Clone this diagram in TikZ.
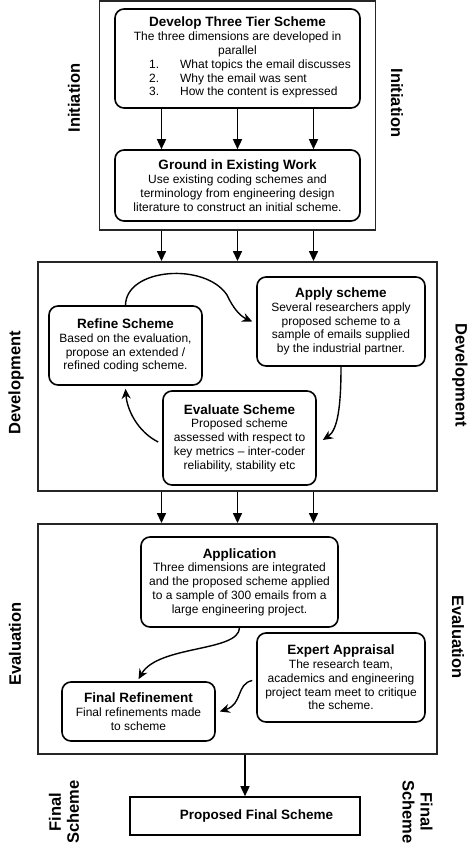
\documentclass[tikz,border=0pt]{standalone}
\usepackage{fontspec}
\setmainfont{Liberation Sans}
\usetikzlibrary{arrows.meta,calc}
\newcommand\ttl[1]{{\fontsize{13.5}{14}\selectfont\bfseries #1}}
\tikzset{
 phase/.style={draw=black!85, line width=1.9pt, inner sep=0pt},
 rbox/.style={draw, line width=1.6pt, rounded corners=9pt, align=center, inner sep=2pt, font=\fontsize{12}{13.8}\selectfont},
 sbox/.style={draw, line width=1.6pt, inner sep=0pt, font=\fontsize{13.5}{16}\selectfont\bfseries},
 lab/.style={font=\fontsize{16.5}{18}\selectfont\bfseries, align=center, inner sep=0pt},
 arr/.style={line width=1.5pt, -{Triangle[length=10pt,width=9pt]}},
 carr/.style={line width=1.4pt, -{Stealth[length=10pt,width=9pt]}},
}
\begin{document}
\begin{tikzpicture}[x=1pt,y=-1pt]
\useasboundingbox (0,0) rectangle (474,859);
% phase boxes
\node[phase, minimum width=276pt, minimum height=229pt] (init) at (237.5,115.5) {};
\node[phase, minimum width=399pt, minimum height=229pt] (devbox) at (237.5,376.5) {};
\node[phase, minimum width=399pt, minimum height=230pt] (evalbox) at (237.5,639) {};
% Initiation
\node[rbox, minimum width=245pt, minimum height=99pt] (tier) at (237.5,58.5)
 {\ttl{Develop Three Tier Scheme}\\The three dimensions are developed in\\parallel\\
  \hspace*{25pt}\begin{tabular}[t]{@{}l@{\hspace{21pt}}l@{}}1. & What topics the email discusses\\2. & Why the email was sent\\3. & How the content is expressed\end{tabular}};
\node[rbox, minimum width=245pt, minimum height=71pt] (ground) at (237.5,185.5)
 {\ttl{Ground in Existing Work}\\Use existing coding schemes and\\terminology from engineering design\\literature to construct an initial scheme.};
% Development
\node[rbox, minimum width=153pt, minimum height=79pt] (refine) at (125.5,345.5)
 {\ttl{Refine Scheme}\\Based on the evaluation,\\propose an extended /\\refined coding scheme.};
\node[rbox, minimum width=168pt, minimum height=89pt] (apply) at (341,321.5)
 {\ttl{Apply scheme}\\Several researchers apply\\proposed scheme to a\\sample of emails supplied\\by the industrial partner.};
\node[rbox, minimum width=153pt, minimum height=94pt] (evalsch) at (239.5,438)
 {\ttl{Evaluate Scheme}\\Proposed scheme\\assessed with respect to\\key metrics -- inter-coder\\reliability, stability etc};
% Evaluation
\node[rbox, minimum width=197pt, minimum height=90pt] (appl) at (239.5,582)
 {\ttl{Application}\\Three dimensions are integrated\\and the proposed scheme applied\\to a sample of 300 emails from a\\large engineering project.};
\node[rbox, minimum width=168pt, minimum height=89pt] (expert) at (341,677.5)
 {\ttl{Expert Appraisal}\\The research team,\\academics and engineering\\project team meet to critique\\the scheme.};
\node[rbox, minimum width=153pt, minimum height=59pt] (finref) at (138.5,711.5)
 {\ttl{Final Refinement}\\Final refinements made\\to scheme};
% Final
\node[sbox, minimum width=230pt, minimum height=38pt] (final) at (245,816)
 {\hspace*{23pt}Proposed Final Scheme};
% labels
\node[lab, rotate=90] (l1) at (74,98) {Initiation};
\node[lab, rotate=-90] (r1) at (397,103) {Initiation};
\node[lab, rotate=90] (l2) at (16,383) {Development};
\node[lab, rotate=-90] (r2) at (460,375) {Development};
\node[lab, rotate=90] (l3) at (15,644) {Evaluation};
\node[lab, rotate=-90] (r3) at (458,637) {Evaluation};
\node[lab, rotate=90] (l4) at (64,812) {Final\\Scheme};
\node[lab, rotate=-90] (r4) at (417.5,812) {Final\\Scheme};
% straight arrows
\foreach \dx in {-76,0,76}{
 \draw[arr] ([xshift=\dx pt]tier.south) -- ([xshift=\dx pt]ground.north);
 \draw[arr] ([xshift=\dx pt]init.south) -- ([xshift=\dx pt]devbox.north);
 \draw[arr] ([xshift=\dx pt]devbox.south) -- ([xshift=\dx pt]evalbox.north);
}
\draw[arr] ([xshift=7.5pt]evalbox.south) -- (final.north);
% curved arrows
\draw[carr] (refine.north) .. controls (126,268) and (205,262) .. (227,295)
  .. controls (233,308) and (240,316) .. ([xshift=-4pt]apply.west);
\draw[carr] (apply.south) .. controls (341,405) and (338,430) .. ([xshift=6pt,yshift=-2pt]evalsch.east);
\draw[carr] ([xshift=-4pt,yshift=-4pt]evalsch.west) .. controls (138,432) and (127,410) .. ([yshift=-3pt]refine.south);
\draw[carr] (appl.south) .. controls (239,652) and (158,645) .. ([yshift=2pt]finref.north);
\draw[carr] ([xshift=-4pt,yshift=-3pt]expert.west) .. controls (236,684) and (243,704) .. ([xshift=4pt]finref.east);
\end{tikzpicture}
\end{document}
